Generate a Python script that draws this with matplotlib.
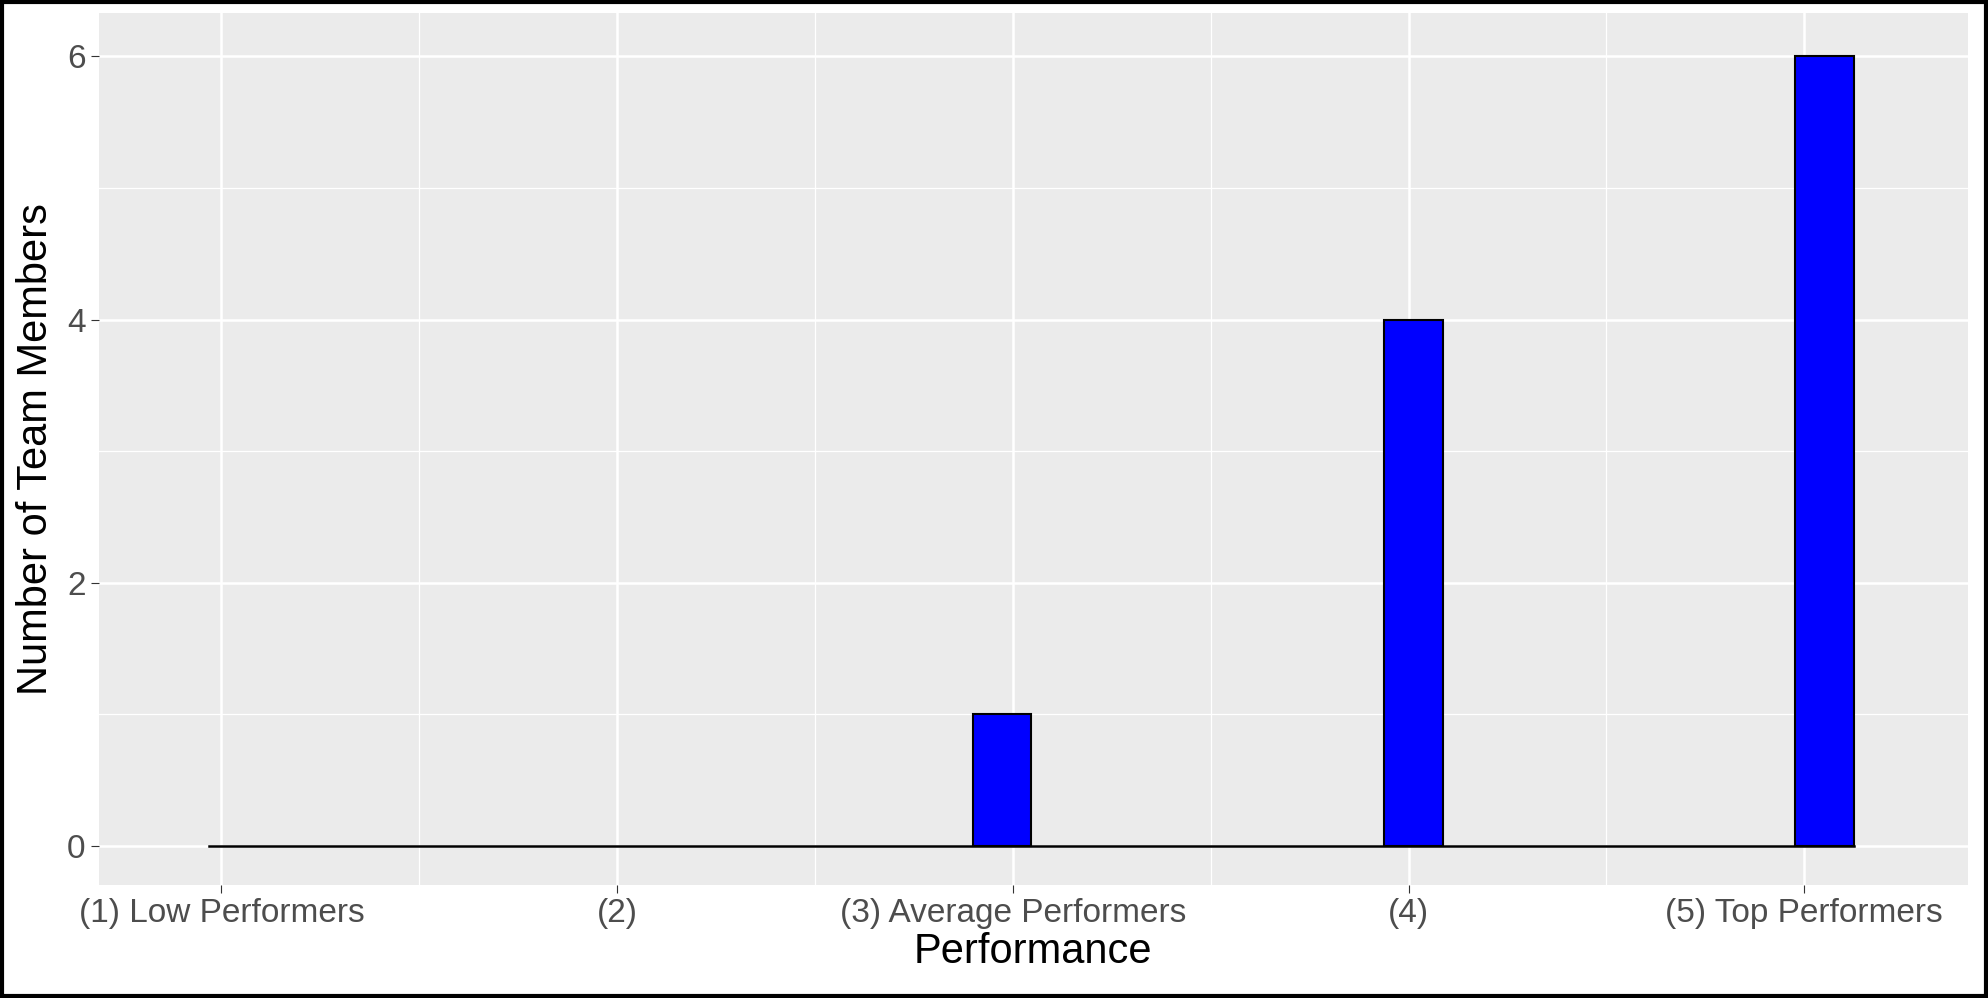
import matplotlib
matplotlib.use("Agg")
import matplotlib.pyplot as plt
from matplotlib.patches import Rectangle
import math

plt.rcParams['font.family'] = ['Liberation Sans', 'DejaVu Sans']

categories = ["(1) Low Performers", "(2)", "(3) Average Performers", "(4)", "(5) Top Performers"]
positions = [1, 2, 3, 4, 5]
counts = [0, 0, 1, 4, 6]

fig = plt.figure(figsize=(19.88, 9.98), dpi=100)
ax = fig.add_axes([0.0497, 0.113, 0.9401, 0.874])
ax.set_facecolor("#EBEBEB")
start, nbins = 0.968, 28
bw = (5.125 - start) / nbins
ax.plot([start, start + nbins * bw], [0, 0], color="black", lw=1.8, zorder=3)
for p, c in zip(positions, counts):
    if c > 0:
        k = math.floor((p - start) / bw)
        ax.bar(start + k * bw, c, width=bw, align="edge", color="#0000FF", edgecolor="black", lw=1.5, zorder=4)
ax.set_xlim(0.69, 5.413)
ax.set_ylim(-0.3, 6.33)
ax.set_xticks(positions)
ax.set_xticklabels(categories)
ax.set_yticks([0, 2, 4, 6])
ax.set_xticks([1.5, 2.5, 3.5, 4.5], minor=True)
ax.set_yticks([1, 3, 5], minor=True)
ax.grid(True, which="major", color="white", lw=1.8, zorder=0)
ax.grid(True, which="minor", color="white", lw=0.9, zorder=0)
ax.set_axisbelow(True)
for s in ax.spines.values():
    s.set_visible(False)
ax.tick_params(which="major", length=6, color="#333333", labelsize=24, labelcolor="#4D4D4D")
ax.tick_params(which="minor", length=0)
ax.set_xlabel("Performance", fontsize=30, labelpad=2)
ax.set_ylabel("Number of Team Members", fontsize=30, labelpad=8)
fig.patches.append(Rectangle((0.001, 0.002), 0.998, 0.996, transform=fig.transFigure,
                             fill=False, edgecolor="black", lw=3))
fig.savefig("out.png", dpi=100, facecolor="white")
